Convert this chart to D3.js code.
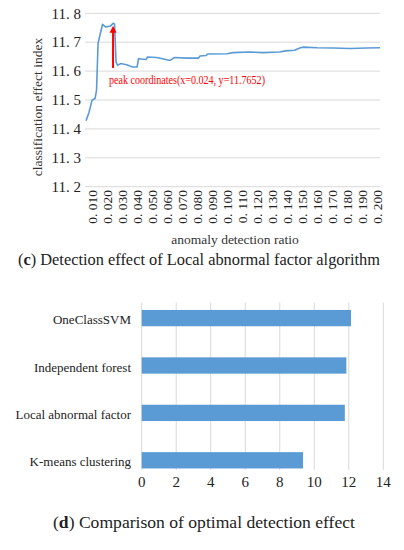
<!DOCTYPE html>
<html><head><meta charset="utf-8">
<script src="https://cdn.jsdelivr.net/npm/d3@7"></script>
<style>body{margin:0;background:#fff}svg{display:block}</style>
</head><body>
<script>
// ---- data: panel (c) ----
const ratios = [0.006,0.008,0.010,0.012,0.013,0.014,0.015,0.017,0.019,0.022,0.024,0.025,0.026,0.027,0.029,0.033,0.037,0.040,0.041,0.046,0.047,0.053,0.057,0.062,0.065,0.073,0.081,0.082,0.086,0.087,0.100,0.104,0.115,0.124,0.135,0.139,0.145,0.149,0.151,0.160,0.171,0.182,0.193,0.202];
const effect = [11.428,11.458,11.499,11.505,11.534,11.695,11.719,11.762,11.753,11.755,11.7652,11.763,11.632,11.620,11.626,11.622,11.614,11.614,11.643,11.640,11.649,11.647,11.643,11.637,11.647,11.645,11.645,11.652,11.654,11.659,11.660,11.664,11.666,11.664,11.666,11.670,11.672,11.681,11.683,11.681,11.680,11.678,11.680,11.681];
const yTicks = [11.2,11.3,11.4,11.5,11.6,11.7,11.8];
const xTicks = [0.010,0.020,0.030,0.040,0.050,0.060,0.070,0.080,0.090,0.100,0.110,0.120,0.130,0.140,0.150,0.160,0.170,0.180,0.190,0.200];
const peak = {x:0.024, y:11.7652};
// ---- data: panel (d) ----
const methods = ["OneClassSVM","Independent forest","Local abnormal factor","K-means clustering"];
const bestScores = [12.13,11.86,11.77,9.35];
const barTicks = [0,2,4,6,8,10,12,14];

const svg = d3.select("body").append("svg").attr("width",404).attr("height",550)
  .attr("font-family","'Liberation Serif', 'Times New Roman', serif");
const blue = "#5b9bd5", grid = "#d9d9d9";

// ---------- panel (c) ----------
const x = d3.scaleLinear().domain([0.0053,0.202]).range([85,380]);
const y = d3.scaleLinear().domain([11.2,11.8]).range([186.7,13.3]);
const g1 = svg.append("g");
g1.selectAll("line.gy").data(yTicks).join("line")
  .attr("x1",85).attr("x2",380).attr("y1",d=>y(d)).attr("y2",d=>y(d))
  .attr("stroke",grid).attr("stroke-width",1);
g1.selectAll("text.yl").data(yTicks).join("text")
  .attr("x",81).attr("y",d=>y(d)).attr("dy","0.35em").attr("text-anchor","end")
  .attr("font-size",15).attr("fill","#222")
  .text(d=>d3.format(".1f")(d).replace(".",". "));
g1.selectAll("text.xl").data(xTicks).join("text")
  .attr("transform",d=>`translate(${x(d)},190) rotate(-90)`)
  .attr("text-anchor","end").attr("dy","0.35em")
  .attr("font-size",13.5).attr("fill","#222")
  .text(d=>d3.format(".3f")(d).replace(".",". "));
g1.append("text").attr("x",235).attr("y",244).attr("text-anchor","middle")
  .attr("font-size",13.5).attr("fill","#333").text("anomaly detection ratio");
g1.append("text").attr("transform","translate(37,107) rotate(-90)")
  .attr("text-anchor","middle").attr("dy","0.35em")
  .attr("font-size",13.5).attr("fill","#333").text("classification effect index");
const line = d3.line().x((d,i)=>x(ratios[i])).y(d=>y(d));
g1.append("path").datum(effect).attr("d",line).attr("fill","none")
  .attr("stroke",blue).attr("stroke-width",1.6).attr("stroke-linejoin","round");
// annotation arrow
svg.append("defs").append("marker").attr("id","ah").attr("viewBox","0 0 10 10")
  .attr("refX",5).attr("refY",5).attr("markerWidth",3.5).attr("markerHeight",4.5)
  .attr("orient","auto").append("path").attr("d","M0,0L10,5L0,10Z").attr("fill","#ff0000");
g1.append("line").attr("x1",x(peak.x)).attr("x2",x(peak.x))
  .attr("y1",68).attr("y2",y(peak.y)+6)
  .attr("stroke","#ff0000").attr("stroke-width",2).attr("marker-end","url(#ah)");
g1.append("text").attr("x",109).attr("y",84).attr("font-size",11.5).attr("fill","#ff0000")
  .attr("textLength",156).attr("lengthAdjust","spacingAndGlyphs")
  .text(`peak coordinates(x=${peak.x}, y=${peak.y})`);
// caption c
const cap1 = g1.append("text").attr("x",18).attr("y",265).attr("font-size",16.5).attr("fill","#222")
  .attr("textLength",362).attr("lengthAdjust","spacingAndGlyphs");
cap1.append("tspan").text("(");
cap1.append("tspan").attr("font-weight","bold").text("c");
cap1.append("tspan").text(") Detection effect of Local abnormal factor algorithm");

// ---------- panel (d) ----------
const bx = d3.scaleLinear().domain([0,14]).range([141.7,383.3]);
const by = d3.scaleBand().domain(methods).range([294.4,484]).paddingInner(0.656).paddingOuter(0.328);
const g2 = svg.append("g");
g2.selectAll("line.gx").data(barTicks).join("line")
  .attr("x1",d=>bx(d)).attr("x2",d=>bx(d)).attr("y1",302.5).attr("y2",470)
  .attr("stroke",grid).attr("stroke-width",1);
g2.selectAll("rect").data(methods).join("rect")
  .attr("x",bx(0)).attr("y",d=>by(d)).attr("height",by.bandwidth())
  .attr("width",(d,i)=>bx(bestScores[i])-bx(0)).attr("fill",blue);
g2.selectAll("text.cat").data(methods).join("text")
  .attr("x",131).attr("y",d=>by(d)+by.bandwidth()/2+1.5).attr("dy","0.35em")
  .attr("text-anchor","end").attr("font-size",13).attr("fill","#222").text(d=>d);
g2.selectAll("text.bt").data(barTicks).join("text")
  .attr("x",d=>bx(d)).attr("y",482).attr("dy","0.35em").attr("text-anchor","middle")
  .attr("font-size",15).attr("fill","#222").text(d=>d);
const cap2 = g2.append("text").attr("x",53).attr("y",528).attr("font-size",16.5).attr("fill","#222")
  .attr("textLength",302).attr("lengthAdjust","spacingAndGlyphs");
cap2.append("tspan").text("(");
cap2.append("tspan").attr("font-weight","bold").text("d");
cap2.append("tspan").text(") Comparison of optimal detection effect");
</script>
</body></html>
